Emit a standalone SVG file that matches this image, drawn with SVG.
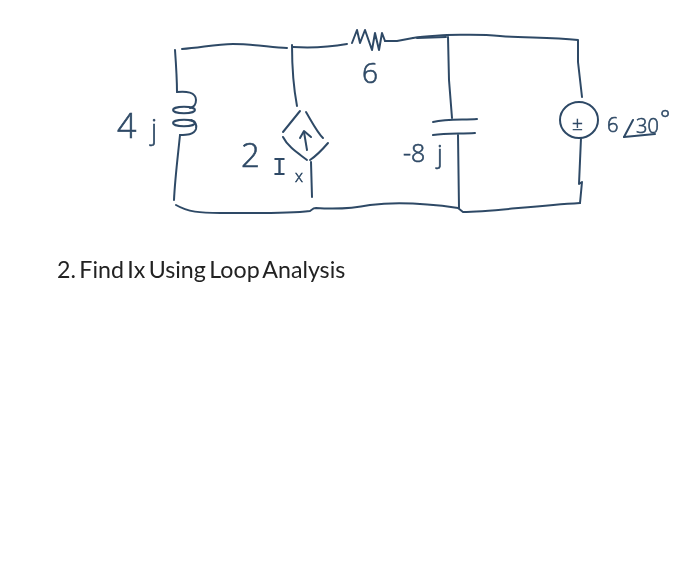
<svg xmlns="http://www.w3.org/2000/svg" width="700" height="578" viewBox="0 0 700 578">
<style>
.w{fill:none;stroke:#2f4a66;stroke-width:2;stroke-linecap:round;stroke-linejoin:round}
.h{font-family:"Open Sans","Liberation Sans",sans-serif;font-weight:300;fill:#2f4a66;stroke:#2f4a66;stroke-width:.6}
.t{font-family:Lato,"Liberation Sans",sans-serif;font-size:23.2px;word-spacing:-2.5px;fill:#222}
</style>
<defs><filter id="s" x="-5%" y="-5%" width="110%" height="110%"><feGaussianBlur stdDeviation="0.4"/></filter></defs>
<rect width="700" height="578" fill="#fff"/>
<g filter="url(#s)">
<g id="connectors">
<path class="w" d="M175 50C176 64 177 78 177 92"/>
<path class="w" d="M180 135C178 155 175 178 174 200"/>
<path class="w" d="M176 205C188 212 200 213 220 213C250 213 285 214 310 211C314 208 314 208 316 208C330 209 350 209 370 205C395 202 430 204 458 208L463 212C490 212 530 206 580 203"/>
<path class="w" d="M580 203L582 182L579 184L581 138"/>
<path class="w" d="M582 97L578 62L578 40C550 37 525 38 500 36C480 34 465 35 447 35C435 36 425 36 413 38"/>
<path class="w" d="M417 38L446 37"/>
<path class="w" d="M413 38L397 41L385 41"/>
<path class="w" d="M182 49C200 48 215 44 233 44C250 44 270 47 287 48"/>
<path class="w" d="M292 45C292 65 293 85 297 106"/>
<path class="w" d="M293 47C310 48 330 47 347 44"/>
<path class="w" d="M448 37L449 80L452 118"/>
<path class="w" d="M458 135L459 208"/>
<path class="w" d="M311 162L312 197"/>
</g>
<g id="inductor">
<path class="w" d="M177 92C186 91 196 92 196 100C196 104 194 107 190 108"/>
<ellipse class="w" cx="184" cy="110" rx="11" ry="3.2"/>
<ellipse class="w" cx="184" cy="123" rx="11" ry="3.2"/>
<path class="w" d="M191 120C196 122 197 125 196 129C194 135 186 135 180 135"/>
</g>
<g id="resistor"><path class="w" d="M352 43L357 30L360 43L365 30L372 50L375 33L379 50L382 33L385 41"/></g>
<g id="capacitor">
<path class="w" d="M433 122C447 119 462 120 477 119"/>
<path class="w" d="M433 135C447 133 461 134 475 133"/>
</g>
<g id="dependent-source">
<path class="w" d="M300 111L283 132"/>
<path class="w" d="M306 112C312 122 317 132 323 138"/>
<path class="w" d="M283 137C288 147 298 153 307 160"/>
<path class="w" d="M328 143C322 150 316 156 310 160"/>
<path class="w" d="M307 150L304 132"/>
<path class="w" d="M300 138L304 131L311 137"/>
</g>
<g id="voltage-source">
<ellipse class="w" cx="579" cy="120" rx="19" ry="18"/>
<path class="w" d="M624 137L633 120"/>
<path class="w" d="M624 137C634 136 645 135 655 134"/>
</g>
<g id="labels">
<text class="h" x="117" y="138" font-size="34">4</text>
<text class="h" x="151" y="139" font-size="27">j</text>
<text class="h" x="241" y="167" font-size="33">2</text>
<text x="272" y="175" font-family="Liberation Mono,monospace" font-size="25" fill="#2f4a66">I</text>
<text class="h" x="295" y="182" font-size="16">x</text>
<text class="h" x="362" y="83" font-size="28">6</text>
<text class="h" x="403" y="162" font-size="25">-8</text>
<text class="h" x="437" y="163" font-size="25">j</text>
<text class="h" x="572" y="130" font-size="19">±</text>
<text class="h" x="607" y="132" font-size="20">6</text>
<text class="h" x="636" y="133" font-size="20">30</text>
<text class="h" x="660" y="127" font-size="24">°</text>
</g>
</g>
<text class="t" x="57" y="278" filter="url(#s)">2. Find Ix Using Loop Analysis</text>
</svg>
